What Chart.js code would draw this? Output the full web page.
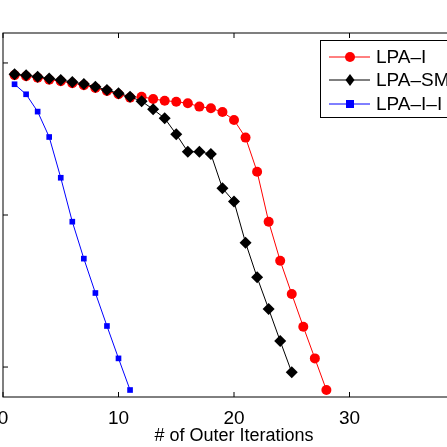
<!DOCTYPE html>
<html><head><meta charset="utf-8">
<script src="https://cdn.jsdelivr.net/npm/chart.js@4/dist/chart.umd.min.js"></script>
<style>
html,body{margin:0;padding:0;overflow:hidden;width:447px;height:447px;background:#fff}
#wrap{position:absolute;left:-40px;top:0;width:520px;height:447px}
</style></head><body>
<div id="wrap"><canvas id="c"></canvas></div>
<script>
const xLpaI = [1,2,3,4,5,6,7,8,9,10,11,12,13,14,15,16,17,18,19,20,21,22,23,24,25,26,27,28];
const yLpaI = [1.92,1.912,1.903,1.89,1.88,1.867,1.854,1.836,1.815,1.794,1.772,1.778,1.763,1.752,1.745,1.735,1.713,1.702,1.678,1.625,1.509,1.285,0.956,0.699,0.48,0.265,0.057,-0.151];
const xLpaSm = [1,2,3,4,5,6,7,8,9,10,11,12,13,14,15,16,17,18,19,20,21,22,23,24,25];
const yLpaSm = [1.926,1.919,1.91,1.897,1.888,1.875,1.862,1.844,1.822,1.801,1.778,1.748,1.695,1.636,1.531,1.416,1.416,1.401,1.176,1.088,0.818,0.59,0.382,0.171,-0.035];
const xLpaII = [1,2,3,4,5,6,7,8,9,10,11];
const yLpaII = [1.86,1.794,1.68,1.513,1.245,0.956,0.713,0.487,0.27,0.057,-0.151];
const xTicks = [0,10,20,30,40];
const yTicks = [0,1,2];
const labels = ['LPA\u2013I','LPA\u2013SM','LPA\u2013I\u2013I'];
const colors = ['#ff0000','#000000','#0000ff'];
const styles = ['circle','rectRot','rect'];
const radii = [5,6,4];
const orders = [3,1,2];

const pts = (xs, ys) => xs.map((x, i) => ({x, y: ys[i]}));
const series = [pts(xLpaI,yLpaI), pts(xLpaSm,yLpaSm), pts(xLpaII,yLpaII)];
const FONT = '"Liberation Sans", Arial, sans-serif';

const frame = {
  id: 'frame',
  afterDraw(chart) {
    const {ctx, chartArea: a, scales: {x, y}} = chart;
    ctx.save();
    ctx.strokeStyle = '#000'; ctx.lineWidth = 1;
    ctx.strokeRect(a.left, a.top, a.right - a.left, a.bottom - a.top);
    ctx.beginPath();
    xTicks.forEach(v => { const px = x.getPixelForValue(v);
      ctx.moveTo(px, a.bottom); ctx.lineTo(px, a.bottom - 5);
      ctx.moveTo(px, a.top); ctx.lineTo(px, a.top + 5); });
    yTicks.forEach(v => { const py = y.getPixelForValue(v);
      ctx.moveTo(a.left, py); ctx.lineTo(a.left + 5, py); });
    ctx.stroke();
    // legend
    ctx.fillStyle = '#fff';
    ctx.fillRect(360, 40, 150, 77);
    ctx.strokeRect(360.5, 40.5, 150, 77);
    ctx.font = '19px ' + FONT;
    ctx.textBaseline = 'middle';
    const rows = [57, 80, 104];
    labels.forEach((t, i) => {
      const yy = rows[i];
      ctx.strokeStyle = colors[i]; ctx.fillStyle = colors[i];
      ctx.beginPath(); ctx.moveTo(369, yy); ctx.lineTo(410, yy); ctx.stroke();
      const r = radii[i];
      ctx.beginPath();
      if (styles[i] === 'circle') ctx.arc(390, yy, r, 0, Math.PI * 2);
      else if (styles[i] === 'rectRot') { ctx.moveTo(390, yy - r); ctx.lineTo(390 + r * 0.75, yy); ctx.lineTo(390, yy + r); ctx.lineTo(390 - r * 0.75, yy); ctx.closePath(); }
      else ctx.rect(390 - r, yy - r, 2 * r, 2 * r);
      ctx.fill();
      ctx.fillStyle = '#000';
      ctx.fillText(t, 416, yy + 1);
    });
    ctx.restore();
  }
};

new Chart(document.getElementById('c'), {
  type: 'scatter',
  data: {
    datasets: series.map((d, i) => ({
      label: labels[i], data: d, showLine: true, order: orders[i],
      borderColor: colors[i], backgroundColor: colors[i], borderWidth: 1,
      pointStyle: styles[i], pointRadius: radii[i], pointBorderWidth: 0
    }))
  },
  options: {
    responsive: true, maintainAspectRatio: false, animation: false,
    layout: { padding: { left: 43, right: 15, top: 33, bottom: 0 } },
    plugins: { legend: { display: false }, tooltip: { enabled: false } },
    scales: {
      x: {
        type: 'linear', min: 0, max: 40,
        afterBuildTicks: s => { s.ticks = xTicks.map(v => ({value: v})); },
        afterFit: s => { s.height = 50; },
        grid: { display: false },
        border: { display: false },
        ticks: { color: '#000', font: { size: 19, family: FONT }, padding: 2, maxRotation: 0 },
        title: { display: true, text: '# of Outer Iterations', color: '#000', font: { size: 18, family: FONT }, padding: 0 }
      },
      y: {
        type: 'linear', min: -0.197, max: 2.197,
        afterFit: s => { s.width = 0; },
        grid: { display: false }, border: { display: false },
        ticks: { display: false }
      }
    }
  },
  plugins: [frame]
});
</script>
</body></html>
